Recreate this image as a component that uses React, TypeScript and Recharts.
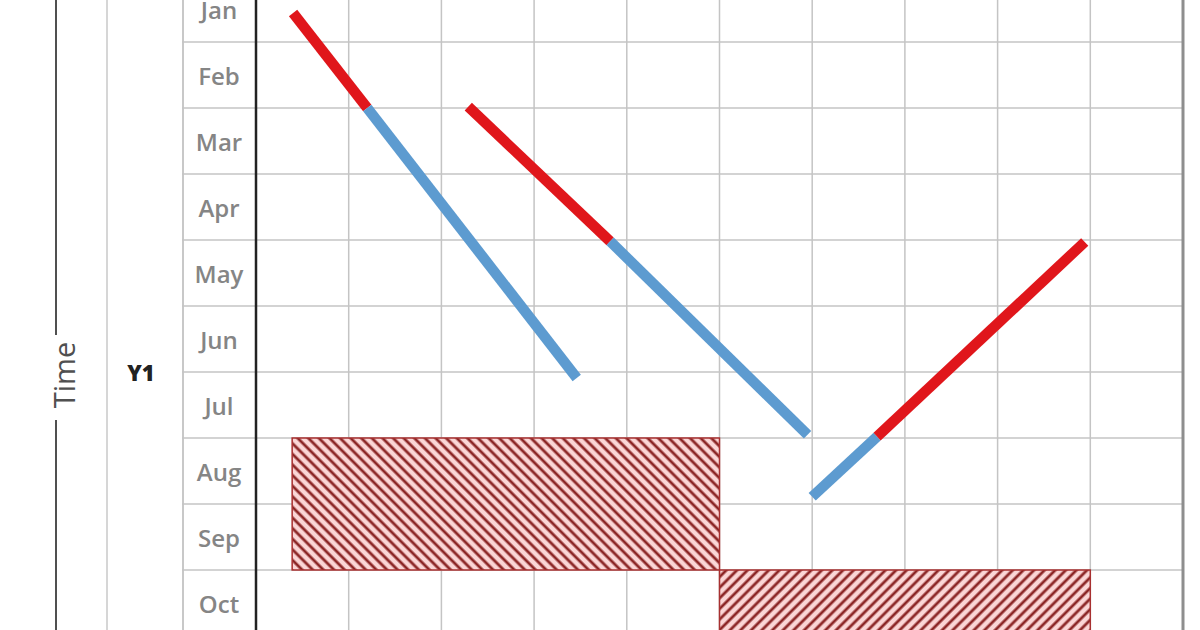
import React from 'react';
import { ComposedChart, Line, XAxis, YAxis, CartesianGrid, ReferenceArea, ReferenceLine } from 'recharts';

// rows are months (top to bottom), columns are just unit steps
const months = ['Jan', 'Feb', 'Mar', 'Apr', 'May', 'Jun', 'Jul', 'Aug', 'Sep', 'Oct'];
const monthTicks = [0.5, 1.5, 2.5, 3.5, 4.5, 5.5, 6.5, 7.5, 8.5, 9.5];
const rowBounds = [1, 2, 3, 4, 5, 6, 7, 8, 9];
const colTicks = [0, 1, 2, 3, 4, 5, 6, 7, 8, 9, 10];

const redA = [{ x: 0.4, y: 0.56 }, { x: 1.2, y: 2.0 }];
const blueA = [{ x: 1.2, y: 2.0 }, { x: 3.46, y: 6.09 }];
const redB = [{ x: 2.29, y: 1.98 }, { x: 3.82, y: 4.02 }];
const blueB = [{ x: 3.82, y: 4.02 }, { x: 5.95, y: 6.95 }];
const blueC = [{ x: 6.0, y: 7.89 }, { x: 6.7, y: 6.98 }];
const redC = [{ x: 6.7, y: 6.98 }, { x: 8.94, y: 4.03 }];

const segments = [
  { id: 'redA', data: redA, color: '#e0161b' },
  { id: 'blueA', data: blueA, color: '#5d9bd0' },
  { id: 'redB', data: redB, color: '#e0161b' },
  { id: 'blueB', data: blueB, color: '#5d9bd0' },
  { id: 'blueC', data: blueC, color: '#5d9bd0' },
  { id: 'redC', data: redC, color: '#e0161b' },
];

const blocks = [
  { x1: 0.39, x2: 5, y1: 7, y2: 9, hatch: 'hatchBack' },
  { x1: 5, x2: 9, y1: 9, y2: 10, hatch: 'hatchFwd' },
];

const LABEL_COL = 74;

const MonthTick = ({ x, y, payload }: any) => (
  <text
    x={x - LABEL_COL / 2}
    y={y}
    textAnchor="middle"
    dominantBaseline="central"
    fontFamily="'Open Sans', sans-serif"
    fontSize={24}
    fontWeight={600}
    fill="#858585"
  >
    {months[Math.floor(payload.value)]}
  </text>
);

const RowLine = (props: any) => (
  <line
    key={props.key}
    x1={props.x1 - LABEL_COL}
    x2={props.x2}
    y1={props.y1}
    y2={props.y2}
    stroke="#c4c4c4"
    strokeWidth={1.5}
  />
);

const vline = (left: number, color: string, top = 0, height = 630, w = 1.5) => (
  <div style={{ position: 'absolute', left, top, width: w, height, background: color }} />
);

const hatch = (id: string, angle: number) => (
  <pattern id={id} width={7.5} height={7.5} patternUnits="userSpaceOnUse" patternTransform={`rotate(${angle})`}>
    <rect width={7.5} height={7.5} fill="#fbd6d6" />
    <line x1={3.75} y1={0} x2={3.75} y2={7.5} stroke="#8c2626" strokeWidth={2.8} />
  </pattern>
);

export default function App() {
  return (
    <div style={{ position: 'relative', width: 1200, height: 630, overflow: 'hidden', background: '#fff' }}>
      <style>{'body{margin:0}'}</style>
      <svg width={0} height={0} style={{ position: 'absolute' }}>
        <defs>
          {hatch('hatchBack', -45)}
          {hatch('hatchFwd', 45)}
        </defs>
      </svg>

      {vline(55, '#505050', 0, 335)}
      {vline(55, '#505050', 420, 210)}
      {vline(106, '#d6d6d6')}
      {vline(182, '#c8c8c8')}
      <div
        style={{
          position: 'absolute', left: 63, top: 375, transform: 'translate(-50%, -50%) rotate(-90deg)',
          fontFamily: "'Open Sans', sans-serif", fontSize: 29, color: '#505050', whiteSpace: 'nowrap',
        }}
      >
        Time
      </div>
      <div
        style={{
          position: 'absolute', left: 141, top: 372, transform: 'translate(-50%, -50%)',
          fontFamily: "'Open Sans', sans-serif", fontSize: 22, fontWeight: 800, color: '#222',
        }}
      >
        Y1
      </div>

      <div style={{ position: 'absolute', left: 0, top: -24 }}>
        <ComposedChart width={1200} height={660} margin={{ top: 0, right: 17, bottom: 0, left: 256 - LABEL_COL }}>
          <XAxis dataKey="x" type="number" domain={[0, 10]} ticks={colTicks} allowDataOverflow hide />
          <YAxis
            yAxisId="months"
            type="number"
            domain={[0, 10]}
            allowDataOverflow
            reversed
            ticks={monthTicks}
            width={LABEL_COL}
            tick={<MonthTick />}
            tickLine={false}
            tickSize={0}
            tickMargin={0}
            axisLine={false}
            interval={0}
          />
          <YAxis yAxisId="rows" type="number" domain={[0, 10]} allowDataOverflow reversed ticks={rowBounds} hide />
          <CartesianGrid yAxisId="rows" stroke="#c4c4c4" strokeWidth={1.5} horizontal={RowLine} />

          {blocks.map((b, i) => (
            <ReferenceArea
              key={i}
              yAxisId="rows"
              x1={b.x1}
              x2={b.x2}
              y1={b.y1}
              y2={b.y2}
              fill={`url(#${b.hatch})`}
              fillOpacity={1}
              stroke="#a83030"
              strokeWidth={1.5}
              ifOverflow="visible"
            />
          ))}

          <ReferenceLine yAxisId="rows" x={0} stroke="#222" strokeWidth={2.5} />
          <ReferenceLine yAxisId="rows" x={10} stroke="#8e8e8e" strokeWidth={3} />

          {segments.map((s) => (
            <Line
              key={s.id}
              yAxisId="rows"
              data={s.data}
              dataKey="y"
              type="linear"
              stroke={s.color}
              strokeWidth={10.5}
              strokeLinecap="butt"
              dot={false}
              activeDot={false}
              isAnimationActive={false}
            />
          ))}
        </ComposedChart>
      </div>
    </div>
  );
}
